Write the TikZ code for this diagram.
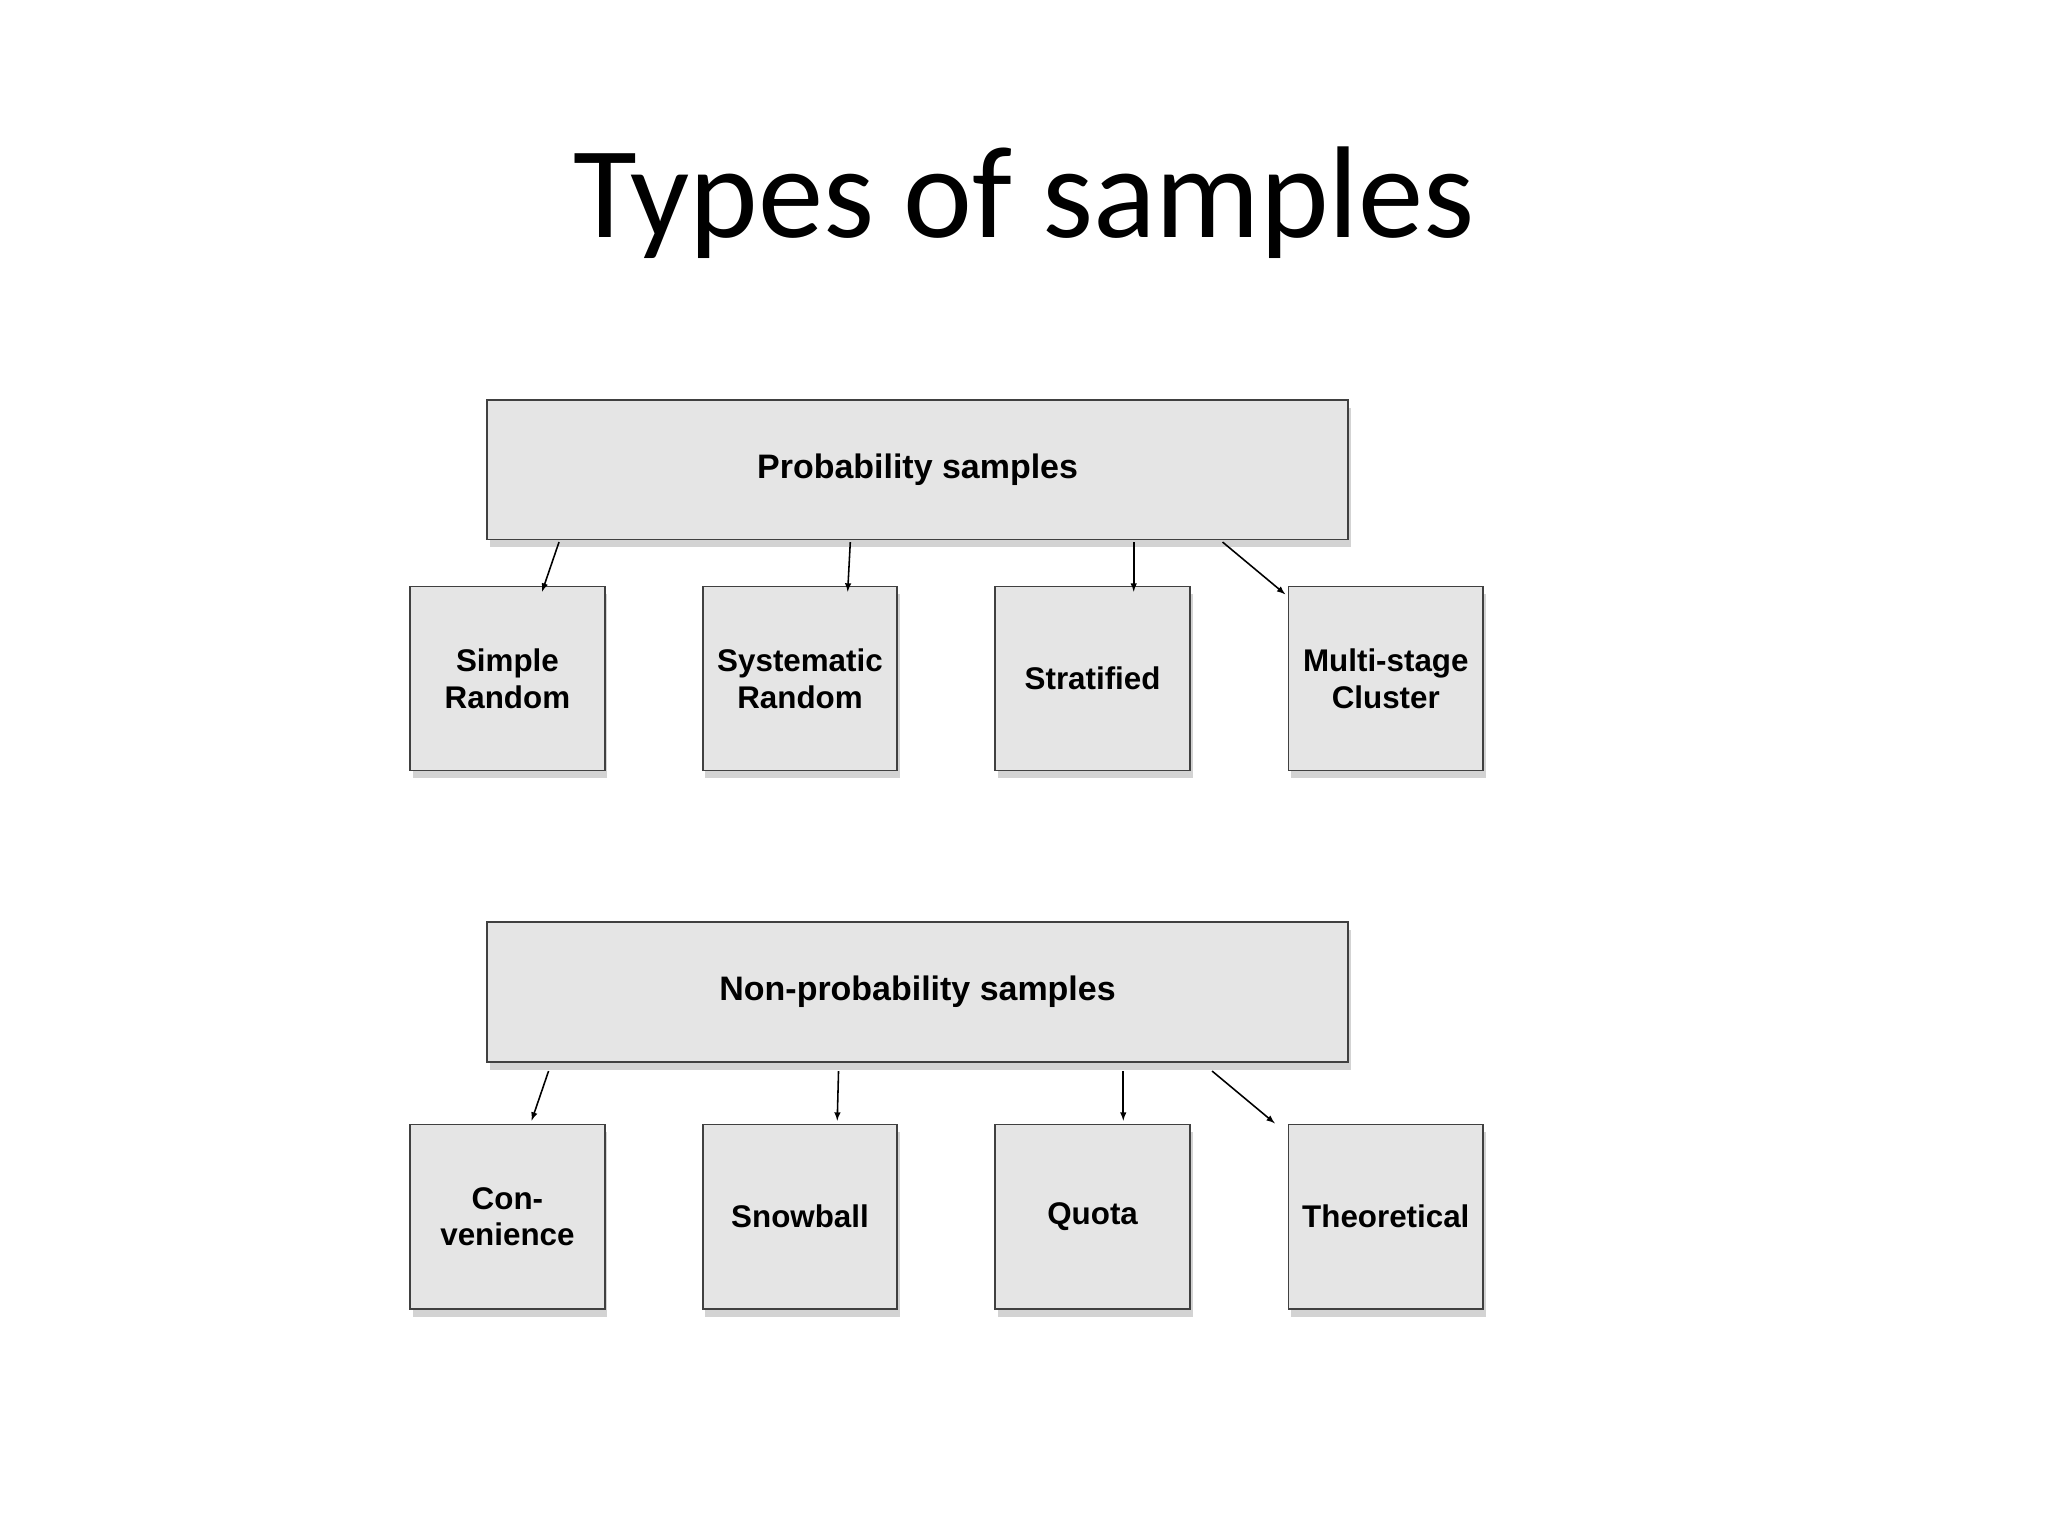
\documentclass[tikz,border=0pt]{standalone}
\usepackage{fontspec}
\setmainfont{Liberation Sans}
\newfontfamily\titlefont{Carlito}
\usetikzlibrary{shadows}
\begin{document}
\begin{tikzpicture}[x=1pt,y=-1pt,
  box/.style={draw=black!75, line width=1.3pt, fill=black!10, minimum width=149pt, minimum height=141pt, inner sep=0pt, align=center, font=\fontsize{24}{28}\selectfont\bfseries, drop shadow={shadow xshift=2pt, shadow yshift=-6pt, opacity=0.35}},
  bigbox/.style={box, minimum width=659pt, minimum height=107pt, font=\fontsize{26}{30}\selectfont\bfseries},
  arr/.style={-latex, line width=1.2pt}]
\useasboundingbox (0,0) rectangle (1568,1176);
\node[font=\titlefont\fontsize{100}{110}\selectfont] (title) at (784,155) {Types of samples};
\node[bigbox] (P) at (702.5,359.5) {Probability samples};
\node[box] (s1) at (388.5,519.5) {Simple\\Random};
\node[box] (s2) at (612.5,519.5) {Systematic\\Random};
\node[box] (s3) at (836.5,519.5) {Stratified};
\node[box] (s4) at (1061,519.5) {Multi-stage\\Cluster};
\node[bigbox] (N) at (702.5,759.5) {Non-probability samples};
\node[box] (n1) at (388.5,931.5) {Con-\\venience};
\node[box] (n2) at (612.5,931.5) {Snowball};
\node[box] (n3) at (836.5,931.5) {Quota};
\node[box] (n4) at (1061,931.5) {Theoretical};
\coordinate (a1) at (428,415); \coordinate (b1) at (415,453);
\coordinate (a2) at (651,415); \coordinate (b2) at (649,453);
\coordinate (a3) at (868,415); \coordinate (b3) at (868,453);
\coordinate (a4) at (936,415); \coordinate (b4) at (984,455);
\coordinate (c1) at (420,820); \coordinate (d1) at (407,858);
\coordinate (c2) at (642,820); \coordinate (d2) at (641,858);
\coordinate (c3) at (860,820); \coordinate (d3) at (860,858);
\coordinate (c4) at (928,820); \coordinate (d4) at (976,860);
\foreach \i in {1,2,3,4}{\draw[arr] (a\i) -- (b\i); \draw[arr] (c\i) -- (d\i);}
\end{tikzpicture}
\end{document}
